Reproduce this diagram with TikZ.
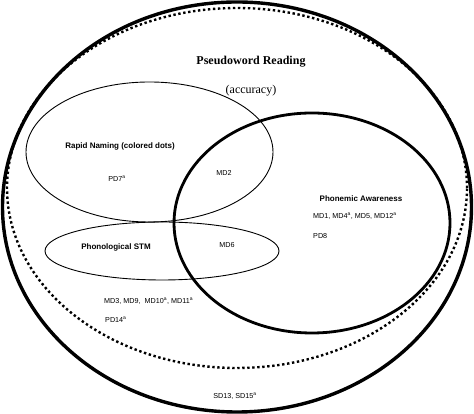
\documentclass[tikz,border=0pt]{standalone}
\usepackage{fontspec}
\setmainfont{Liberation Serif}
\setsansfont{Liberation Sans}
\begin{document}
\begin{tikzpicture}[x=1pt,y=1pt,
  thickline/.style={line width=3.4pt},
  pathick/.style={line width=2.8pt},
  thinline/.style={line width=0.9pt},
  dotline/.style={line width=2.4pt,dash pattern=on 2.4pt off 2.6pt},
  serifbold/.style={font=\fontsize{12}{14}\selectfont\bfseries},
  serifreg/.style={font=\fontsize{12}{14}\selectfont},
  sansbold/.style={font=\fontsize{8}{10}\selectfont\sffamily\bfseries},
  sansreg/.style={font=\fontsize{7.2}{9}\selectfont\sffamily},
  inner sep=0pt]
\useasboundingbox (0,0) rectangle (474,414);
\fill[white] (0,0) rectangle (474,414);
% ellipses
\draw[thickline] (237,207) ellipse [x radius=234.5, y radius=205];
\draw[dotline] (237,226) ellipse [x radius=230, y radius=180];
\draw[thinline] (149.5,262) ellipse [x radius=123.5, y radius=70];
\draw[thinline] (162,163) ellipse [x radius=117, y radius=29];
\draw[pathick] (312,191) ellipse [x radius=138, y radius=110];
% texts
\node[serifbold] (pr) at (251,352) {Pseudoword Reading};
\node[serifreg] (acc) at (251,323) {(accuracy)};
\node[sansbold] (rn) at (120,268) {Rapid Naming (colored dots)};
\node[sansreg] (pd7) at (117,235) {PD7\textsuperscript{a}};
\node[sansreg] (md2) at (224,241) {MD2};
\node[sansbold] (stm) at (116,167) {Phonological STM};
\node[sansreg] (md6) at (227,169) {MD6};
\node[sansbold] (pa) at (361,215) {Phonemic Awareness};
\node[sansreg,anchor=west] (md1) at (313,198) {MD1, MD4\textsuperscript{a}, MD5, MD12\textsuperscript{a}};
\node[sansreg,anchor=west] (pd8) at (313,178) {PD8};
\node[sansreg,anchor=west] (md3) at (104,113) {MD3, MD9,\ \ MD10\textsuperscript{a}, MD11\textsuperscript{a}};
\node[sansreg,anchor=west] (pd14) at (105,94) {PD14\textsuperscript{a}};
\node[sansreg] (sd) at (235,18) {SD13, SD15\textsuperscript{a}};
\end{tikzpicture}
\end{document}
